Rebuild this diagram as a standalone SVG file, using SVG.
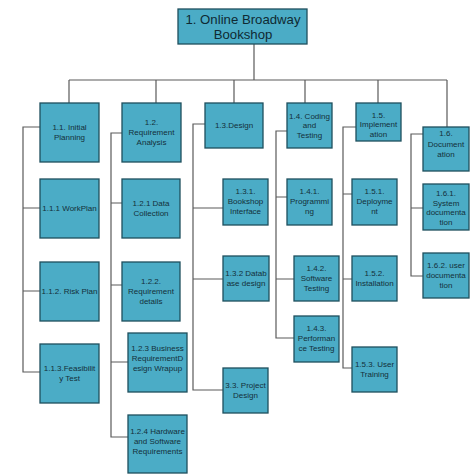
<svg xmlns="http://www.w3.org/2000/svg" width="474" height="476" viewBox="0 0 474 476">
<style>
.b{fill:#4BACC6;stroke:#1E4F5D;stroke-width:1.3}
.t{font-family:"Liberation Sans",Arial,sans-serif;font-size:8px;fill:#14303a;text-anchor:middle}
.h{font-family:"Liberation Sans",Arial,sans-serif;font-size:13.2px;fill:#0f2a33;text-anchor:middle}
.c{fill:none;stroke:#5a5a5a;stroke-width:1.2}
</style>
<rect width="474" height="476" fill="#fff"/>
<g id="connectors">
<path class="c" d="M254,44V80M69,80H447M69,80V103M156,80V103M234,80V103M305,80V103M378,80V103M447,80V127"/>
<path class="c" d="M40,127H23V372H40M23,208H40M23,291H40"/>
<path class="c" d="M122,133H111V437H128M111,203H122M111,285H122M111,362H128"/>
<path class="c" d="M205,124H193V390H223M193,208H223M193,279H223"/>
<path class="c" d="M287,131H276V338H294M276,197H287M276,279H294"/>
<path class="c" d="M356,127H343V368H352M343,194H352M343,279H352"/>
<path class="c" d="M423,134H411V276H423M411,208H423"/>
</g>
<g id="n1"><rect class="b" x="178" y="9" width="129" height="35"/><text class="h" x="243" y="24">1. Online Broadway</text><text class="h" x="243" y="39">Bookshop</text></g>
<g id="n1_1"><rect class="b" x="40" y="103" width="59" height="59"/><text class="t" x="69.5" y="130">1.1. Initial</text><text class="t" x="69.5" y="140">Planning</text></g>
<g id="n1_2"><rect class="b" x="122" y="103" width="59" height="59"/><text class="t" x="151.5" y="125">1.2.</text><text class="t" x="151.5" y="135">Requirement</text><text class="t" x="151.5" y="145">Analysis</text></g>
<g id="n1_3"><rect class="b" x="205" y="103" width="58" height="45"/><text class="t" x="234" y="128">1.3.Design</text></g>
<g id="n1_4"><rect class="b" x="287" y="103" width="45" height="45"/><text class="t" x="309.5" y="119">1.4. Coding</text><text class="t" x="309.5" y="128">and</text><text class="t" x="309.5" y="138">Testing</text></g>
<g id="n1_5"><rect class="b" x="356" y="103" width="45" height="38"/><text class="t" x="378.5" y="118">1.5.</text><text class="t" x="378.5" y="127">Implement</text><text class="t" x="378.5" y="137">ation</text></g>
<g id="n1_6"><rect class="b" x="423" y="127" width="46" height="44"/><text class="t" x="446" y="136">1.6.</text><text class="t" x="446" y="147">Document</text><text class="t" x="446" y="157">ation</text></g>
<g id="n1_1_1"><rect class="b" x="40" y="179" width="59" height="59"/><text class="t" x="69.5" y="211">1.1.1 WorkPlan</text></g>
<g id="n1_1_2"><rect class="b" x="40" y="262" width="59" height="59"/><text class="t" x="69.5" y="294">1.1.2. Risk Plan</text></g>
<g id="n1_1_3"><rect class="b" x="40" y="344" width="59" height="59"/><text class="t" x="69.5" y="371">1.1.3.Feasibilit</text><text class="t" x="69.5" y="381">y Test</text></g>
<g id="n1_2_1"><rect class="b" x="122" y="179" width="58" height="59"/><text class="t" x="151" y="206">1.2.1 Data</text><text class="t" x="151" y="216">Collection</text></g>
<g id="n1_2_2"><rect class="b" x="122" y="262" width="58" height="59"/><text class="t" x="151" y="284">1.2.2.</text><text class="t" x="151" y="294">Requirement</text><text class="t" x="151" y="304">details</text></g>
<g id="n1_2_3"><rect class="b" x="128" y="333" width="59" height="59"/><text class="t" x="157.5" y="351">1.2.3 Business</text><text class="t" x="157.5" y="361">RequirementD</text><text class="t" x="157.5" y="371">esign Wrapup</text></g>
<g id="n1_2_4"><rect class="b" x="128" y="415" width="59" height="58"/><text class="t" x="157.5" y="434">1.2.4 Hardware</text><text class="t" x="157.5" y="444">and Software</text><text class="t" x="157.5" y="454">Requirements</text></g>
<g id="n1_3_1"><rect class="b" x="223" y="179" width="45" height="46"/><text class="t" x="245.5" y="194">1.3.1.</text><text class="t" x="245.5" y="204">Bookshop</text><text class="t" x="245.5" y="214">Interface</text></g>
<g id="n1_3_2"><rect class="b" x="223" y="256" width="46" height="45"/><text class="t" x="246" y="276">1.3.2 Datab</text><text class="t" x="246" y="286">ase design</text></g>
<g id="n3_3"><rect class="b" x="223" y="368" width="45" height="45"/><text class="t" x="245.5" y="388">3.3. Project</text><text class="t" x="245.5" y="398">Design</text></g>
<g id="n1_4_1"><rect class="b" x="287" y="179" width="45" height="46"/><text class="t" x="309.5" y="194">1.4.1.</text><text class="t" x="309.5" y="204">Programmi</text><text class="t" x="309.5" y="214">ng</text></g>
<g id="n1_4_2"><rect class="b" x="294" y="256" width="45" height="45"/><text class="t" x="316.5" y="271">1.4.2.</text><text class="t" x="316.5" y="281">Software</text><text class="t" x="316.5" y="291">Testing</text></g>
<g id="n1_4_3"><rect class="b" x="294" y="316" width="45" height="46"/><text class="t" x="316.5" y="331">1.4.3.</text><text class="t" x="316.5" y="341">Performan</text><text class="t" x="316.5" y="351">ce Testing</text></g>
<g id="n1_5_1"><rect class="b" x="352" y="179" width="45" height="46"/><text class="t" x="374.5" y="194">1.5.1.</text><text class="t" x="374.5" y="204">Deployme</text><text class="t" x="374.5" y="214">nt</text></g>
<g id="n1_5_2"><rect class="b" x="352" y="256" width="45" height="45"/><text class="t" x="374.5" y="276">1.5.2.</text><text class="t" x="374.5" y="286">Installation</text></g>
<g id="n1_5_3"><rect class="b" x="352" y="347" width="45" height="45"/><text class="t" x="374.5" y="367">1.5.3. User</text><text class="t" x="374.5" y="377">Training</text></g>
<g id="n1_6_1"><rect class="b" x="423" y="184" width="46" height="46"/><text class="t" x="446" y="196">1.6.1.</text><text class="t" x="446" y="206">System</text><text class="t" x="446" y="215">documenta</text><text class="t" x="446" y="225">tion</text></g>
<g id="n1_6_2"><rect class="b" x="423" y="253" width="46" height="45"/><text class="t" x="446" y="268">1.6.2. user</text><text class="t" x="446" y="278">documenta</text><text class="t" x="446" y="288">tion</text></g>
</svg>
